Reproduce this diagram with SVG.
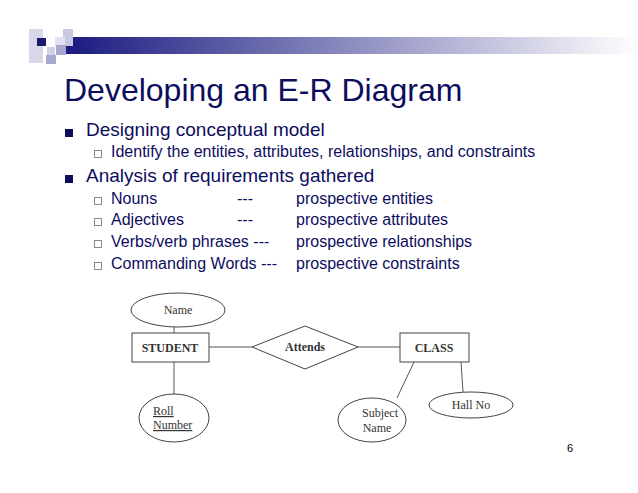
<svg xmlns="http://www.w3.org/2000/svg" width="638" height="493" viewBox="0 0 638 493">
<defs>
<linearGradient id="bar" x1="0" x2="1" y1="0" y2="0">
<stop offset="0" stop-color="#1a1a80"/><stop offset="1" stop-color="#ffffff"/>
</linearGradient>
<style>
.b{font-family:"Liberation Sans",Arial,sans-serif;fill:#0d0d5e}
.s{font-family:"Liberation Sans",Arial,sans-serif;fill:#0d0d5e;font-size:16px}
.e{font-family:"Liberation Serif","Times New Roman",serif;fill:#333;font-size:12px;text-anchor:middle}
.sh{fill:#fff;stroke:#444;stroke-width:1}
.ln{stroke:#555;stroke-width:1;fill:none}
</style>
</defs>
<rect width="638" height="493" fill="#fff"/>
<g id="header">
<rect x="64" y="37" width="574" height="17" fill="url(#bar)"/>
<rect x="29" y="29" width="14" height="34" fill="#d8d8ea"/>
<rect x="63" y="29" width="10" height="17" fill="#c8c8e0"/>
<rect x="55" y="37" width="10" height="10" fill="#e0e0ee"/>
<rect x="37" y="38" width="9" height="8" fill="#1a1a70"/>
<rect x="47" y="47" width="8" height="8" fill="#d0d0e6"/>
<rect x="46" y="55" width="10" height="9" fill="#a8a8d0"/>
<rect x="56" y="45" width="10" height="10" fill="#a8a8cc"/>
</g>
<text class="b" x="64" y="101" font-size="32">Developing an E-R Diagram</text>
<rect x="65" y="129" width="8" height="8" fill="#0d0d5e"/>
<text class="b" x="86" y="136" font-size="19">Designing conceptual model</text>
<rect x="94.500" y="150.500" width="7" height="7" fill="none" stroke="#888"/>
<text class="s" x="111" y="157">Identify the entities, attributes, relationships, and constraints</text>
<rect x="65" y="175" width="8" height="8" fill="#0d0d5e"/>
<text class="b" x="86" y="182" font-size="19">Analysis of requirements gathered</text>
<g fill="none" stroke="#888">
<rect x="94.500" y="197.500" width="7" height="7"/>
<rect x="94.500" y="218.500" width="7" height="7"/>
<rect x="94.500" y="240.500" width="7" height="7"/>
<rect x="94.500" y="262.500" width="7" height="7"/>
</g>
<text class="s" x="111" y="204">Nouns</text><text class="s" x="237" y="204">---</text><text class="s" x="296" y="204">prospective entities</text>
<text class="s" x="111" y="225">Adjectives</text><text class="s" x="237" y="225">---</text><text class="s" x="296" y="225">prospective attributes</text>
<text class="s" x="111" y="247">Verbs/verb phrases ---</text><text class="s" x="296" y="247">prospective relationships</text>
<text class="s" x="111" y="269">Commanding Words ---</text><text class="s" x="296" y="269">prospective constraints</text>
<g id="connectors">
<line class="ln" x1="174" y1="327" x2="174" y2="333"/>
<line class="ln" x1="174" y1="362" x2="174" y2="394"/>
<line class="ln" x1="209" y1="347" x2="252" y2="347"/>
<line class="ln" x1="358" y1="347" x2="400" y2="347"/>
<line class="ln" x1="414" y1="362" x2="397" y2="398"/>
<line class="ln" x1="461" y1="362" x2="463" y2="392"/>
</g>
<g id="name"><ellipse class="sh" cx="178" cy="310" rx="47" ry="17"/><text class="e" x="178" y="314">Name</text></g>
<g id="student"><rect class="sh" x="132" y="333" width="77" height="29"/><text class="e" x="170" y="352" font-weight="bold">STUDENT</text></g>
<g id="attends"><polygon class="sh" points="252,347 305,326 358,347 305,369"/><text class="e" x="305" y="351" font-weight="bold">Attends</text></g>
<g id="class"><rect class="sh" x="400" y="333" width="69" height="29"/><text class="e" x="434" y="352" font-weight="bold">CLASS</text></g>
<g id="roll"><ellipse class="sh" cx="174" cy="418" rx="35" ry="24"/><text class="e" x="153" y="415" style="text-anchor:start" text-decoration="underline">Roll</text><text class="e" x="153" y="429" style="text-anchor:start" text-decoration="underline">Number</text></g>
<g id="subject"><ellipse class="sh" cx="372" cy="420" rx="34" ry="22"/><text class="e" x="380" y="417">Subject</text><text class="e" x="377" y="432">Name</text></g>
<g id="hall"><ellipse class="sh" cx="471" cy="405" rx="42" ry="13"/><text class="e" x="471" y="409">Hall No</text></g>
<text x="570" y="452" font-family="Liberation Sans,Arial,sans-serif" font-size="11" fill="#000" text-anchor="middle">6</text>
</svg>
